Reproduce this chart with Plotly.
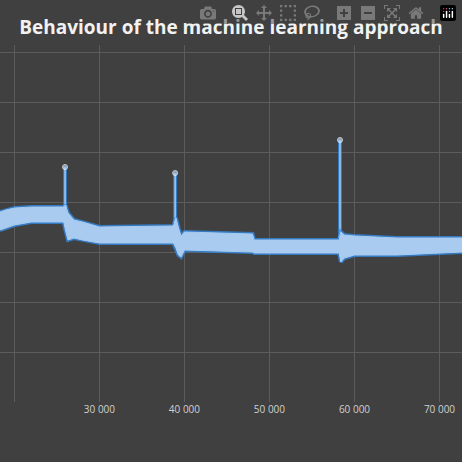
import plotly.graph_objects as go

# envelope of the noisy signal
x_pts = [18300, 19000, 20000, 22000, 25800, 26000, 26300, 27000, 28000, 30000,
         38700, 39000, 39300, 39600, 40000, 48000, 48200, 58200, 58400, 58800,
         60000, 65000, 72650]
upper = [3.80, 3.84, 3.88, 3.90, 3.90, 3.94, 3.78, 3.64, 3.60, 3.50,
         3.52, 3.68, 3.48, 3.32, 3.40, 3.36, 3.24, 3.24, 3.40, 3.34,
         3.32, 3.28, 3.28]
lower = [3.44, 3.48, 3.54, 3.60, 3.60, 3.44, 3.24, 3.28, 3.24, 3.18,
         3.18, 3.08, 2.94, 2.90, 3.04, 3.00, 2.98, 2.98, 2.80, 2.88,
         2.94, 2.94, 3.00]
spike_x = [25950, 38900, 58300]
spike_top = [4.70, 4.58, 5.24]
spike_base = [3.90, 3.60, 3.30]

tick_vals = [20000, 30000, 40000, 50000, 60000, 70000]
tick_text = ["20 000", "30 000", "40 000", "50 000", "60 000", "70 000"]

fig = go.Figure()

glow = 'rgba(50,140,235,0.75)'
band = '#a8cbef'

# spikes
for sx, st, sb in zip(spike_x, spike_top, spike_base):
    fig.add_trace(go.Scatter(x=[sx, sx], y=[sb, st], mode='lines',
                             line=dict(color=glow, width=4), hoverinfo='skip'))
    fig.add_trace(go.Scatter(x=[sx, sx], y=[sb, st], mode='lines+markers',
                             line=dict(color=band, width=1.5),
                             marker=dict(size=[3, 5], color=band), hoverinfo='skip'))

# band with glowing edge
fig.add_trace(go.Scatter(x=x_pts, y=upper, mode='lines',
                         line=dict(color=glow, width=4), hoverinfo='skip'))
fig.add_trace(go.Scatter(x=x_pts, y=lower, mode='lines',
                         line=dict(color=glow, width=4), hoverinfo='skip'))
fig.add_trace(go.Scatter(x=x_pts, y=upper, mode='lines',
                         line=dict(color=band, width=1), hoverinfo='skip'))
fig.add_trace(go.Scatter(x=x_pts, y=lower, mode='lines', fill='tonexty',
                         fillcolor=band, line=dict(color=band, width=1),
                         hoverinfo='skip'))

fig.update_layout(
    width=462, height=462,
    showlegend=False,
    paper_bgcolor='#404040', plot_bgcolor='#404040',
    margin=dict(l=0, r=0, t=45, b=60),
    title=dict(text='Behaviour of the machine learning approach',
               x=0.5, y=0.955, xanchor='center',
               font=dict(family='Open Sans', size=19, color='#f2f2f2', weight='bold')),
    xaxis=dict(range=[18300, 72650], tickvals=tick_vals, ticktext=tick_text,
               showgrid=True, gridcolor='#5c5c5c', gridwidth=1, zeroline=False,
               tickfont=dict(family='Open Sans', size=10, color='#d0d0d0'),
               ticks='', showline=False),
    yaxis=dict(range=[0, 7.14], dtick=1, showticklabels=False,
               showgrid=True, gridcolor='#5c5c5c', gridwidth=1, zeroline=False),
)

fig.write_html("out.html",
               post_script="document.body.style.margin='0';document.body.style.background='#404040';")
